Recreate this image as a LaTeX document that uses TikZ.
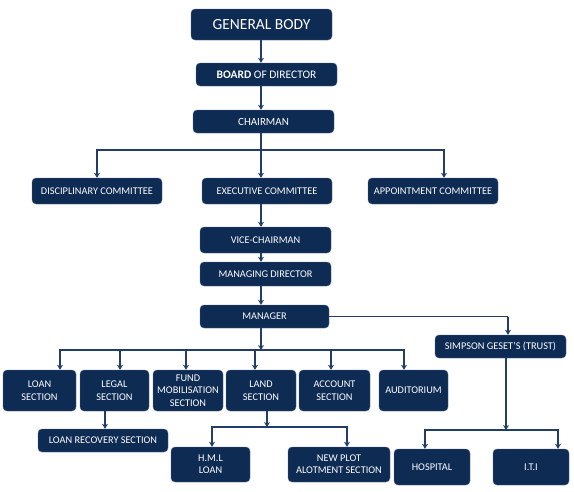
\documentclass[tikz,border=0pt]{standalone}
\usepackage{fontspec}
\setmainfont{Carlito}
\usetikzlibrary{arrows.meta}
\definecolor{navy}{RGB}{14,43,84}
\definecolor{lnavy}{RGB}{34,62,104}
\begin{document}
\begin{tikzpicture}[x=1pt,y=-1pt,
  bx/.style={draw=navy!70!white, line width=0.4pt, fill=navy, rounded corners=4pt, text=white, align=center, inner sep=1pt, font=\fontsize{10.3}{12.6}\selectfont},
  ln/.style={draw=lnavy, line width=1.4pt},
  arr/.style={ln, -{Stealth[length=5pt,width=6pt]}}]
\useasboundingbox (0,0) rectangle (574,491);
\node[bx, minimum width=141pt, minimum height=31pt, font=\fontsize{15.5}{18}\selectfont] (gb) at (261.5,24.5) {GENERAL BODY};
\node[bx, minimum width=141pt, minimum height=23pt, font=\fontsize{11.5}{13}\selectfont] (bod) at (266.5,74.5) {\textbf{BOARD} OF DIRECTOR};
\node[bx, minimum width=141pt, minimum height=23pt, font=\fontsize{11}{13}\selectfont] (ch) at (263.5,121.5) {CHAIRMAN};
\node[bx, minimum width=130pt, minimum height=26pt] (dc) at (97,191) {DISCIPLINARY COMMITTEE};
\node[bx, minimum width=130pt, minimum height=26pt] (ec) at (267,191) {EXECUTIVE COMMITTEE};
\node[bx, minimum width=130pt, minimum height=26pt] (ac) at (433,191) {APPOINTMENT COMMITTEE};
\node[bx, minimum width=131pt, minimum height=26pt] (vc) at (265.5,240) {VICE-CHAIRMAN};
\node[bx, minimum width=131pt, minimum height=24pt] (md) at (265.5,274) {MANAGING DIRECTOR};
\node[bx, minimum width=129pt, minimum height=23pt] (mgr) at (264.5,316.5) {MANAGER};
\node[bx, minimum width=73pt, minimum height=41pt] (loan) at (39.5,390.5) {LOAN\\SECTION};
\node[bx, minimum width=69pt, minimum height=41pt] (legal) at (114.5,390.5) {LEGAL\\SECTION};
\node[bx, minimum width=70pt, minimum height=41pt] (fund) at (188,390.5) {FUND\\MOBILISATION\\SECTION};
\node[bx, minimum width=70pt, minimum height=41pt] (land) at (261,390.5) {LAND\\SECTION};
\node[bx, minimum width=71pt, minimum height=41pt] (acct) at (334.5,390.5) {ACCOUNT\\SECTION};
\node[bx, minimum width=69pt, minimum height=41pt] (aud) at (413.5,390.5) {AUDITORIUM};
\node[bx, minimum width=130pt, minimum height=23pt] (lrs) at (103,440.5) {LOAN RECOVERY SECTION};
\node[bx, minimum width=79pt, minimum height=35pt, font=\fontsize{10.3}{12}\selectfont] (hml) at (210.5,464.5) {H.M.L\\LOAN};
\node[bx, minimum width=102pt, minimum height=35pt, font=\fontsize{10.3}{12}\selectfont] (npa) at (339,464.5) {NEW PLOT\\ALOTMENT SECTION};
\node[bx, minimum width=131pt, minimum height=23pt] (sg) at (500.5,346.5) {SIMPSON GESET'S (TRUST)};
\node[bx, minimum width=76pt, minimum height=36pt] (hosp) at (432,467) {HOSPITAL};
\node[bx, minimum width=76pt, minimum height=36pt] (iti) at (531,467) {I.T.I};
% coordinates
\coordinate (spine) at (261,0);
\coordinate (chb) at (261,150);
\coordinate (mgrb) at (261,350);
\coordinate (landb) at (267,427);
\coordinate (sgr) at (508,316.5);
\coordinate (sgb) at (506,430);
% connectors
\draw[arr] (spine |- gb.south) -- (spine |- bod.north);
\draw[arr] (spine |- bod.south) -- (spine |- ch.north);
\draw[ln] (spine |- ch.south) -- (chb);
\draw[arr] (chb) -| (dc.north);
\draw[arr] (chb) -| ([xshift=11pt]ac.north);
\draw[arr] (chb) -- (chb |- ec.north);
\draw[arr] (spine |- ec.south) -- (spine |- vc.north);
\draw[arr] (spine |- vc.south) -- (spine |- md.north);
\draw[arr] (spine |- md.south) -- (spine |- mgr.north);
\draw[arr] (spine |- mgr.south) -- (mgrb);
\draw[arr] (mgrb) -| ([xshift=20.5pt]loan.north);
\draw[arr] (mgrb) -| ([xshift=5.5pt]legal.north);
\draw[arr] (mgrb) -| ([xshift=-2pt]fund.north);
\draw[arr] (mgrb) -| ([xshift=-6pt]land.north);
\draw[arr] (mgrb) -| ([xshift=-3.5pt]acct.north);
\draw[arr] (mgrb) -| ([xshift=-9.5pt]aud.north);
\draw[arr] ([xshift=-9.5pt]legal.south) -- ([xshift=2pt]lrs.north);
\draw[arr] ([xshift=6pt]land.south) -- (landb);
\draw[arr] (landb) -| ([xshift=1.5pt]hml.north);
\draw[arr] (landb) -| ([xshift=8pt]npa.north);
\draw[ln] (mgr.east) -- (sgr);
\draw[arr] (sgr) -- (sgr |- sg.north);
\draw[arr] (sgb |- sg.south) -- (sgb);
\draw[arr] (sgb) -| ([xshift=-7pt]hosp.north);
\draw[arr] (sgb) -| ([xshift=27pt]iti.north);
\end{tikzpicture}
\end{document}
